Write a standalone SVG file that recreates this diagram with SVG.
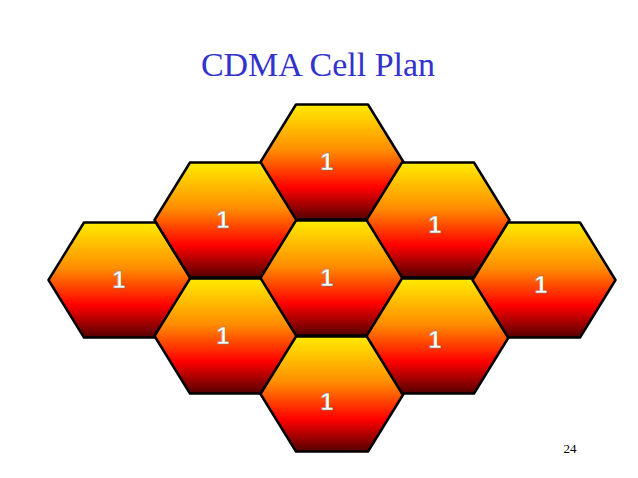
<svg xmlns="http://www.w3.org/2000/svg" width="638" height="478" viewBox="0 0 638 478">
<defs>
<linearGradient id="g" x1="0" y1="0" x2="0" y2="1">
<stop offset="0" stop-color="#ffec00"/>
<stop offset="0.4" stop-color="#ff8c00"/>
<stop offset="0.72" stop-color="#ff0000"/>
<stop offset="1" stop-color="#550000"/>
</linearGradient>
<polygon id="hx" points="-71.5,0 -36,-57.5 36,-57.5 71.5,0 36,57.5 -36,57.5"/>
</defs>
<style>
.h{fill:url(#g);stroke:#000;stroke-width:2.5;stroke-linejoin:round}
.l{font-family:"Liberation Sans",Arial,sans-serif;font-weight:bold;font-size:23px;fill:#fff;text-anchor:middle;stroke:#777;stroke-width:0.4}
</style>
<rect width="638" height="478" fill="#fff"/>
<text x="318" y="76" font-family="Liberation Serif,serif" font-size="34" fill="#3333cc" text-anchor="middle">CDMA Cell Plan</text>
<g id="c0"><use href="#hx" class="h" x="120" y="280"/><text class="l" x="119" y="288">1</text></g>
<g id="c1"><use href="#hx" class="h" x="226" y="220"/><text class="l" x="223" y="228">1</text></g>
<g id="c2"><use href="#hx" class="h" x="226" y="336"/><text class="l" x="223" y="344">1</text></g>
<g id="c3"><use href="#hx" class="h" x="332" y="162"/><text class="l" x="327" y="170">1</text></g>
<g id="c4"><use href="#hx" class="h" x="332" y="278"/><text class="l" x="327" y="286">1</text></g>
<g id="c5"><use href="#hx" class="h" x="332" y="394"/><text class="l" x="327" y="410">1</text></g>
<g id="c6"><use href="#hx" class="h" x="438" y="220"/><text class="l" x="435" y="233">1</text></g>
<g id="c7"><use href="#hx" class="h" x="438" y="336"/><text class="l" x="435" y="348">1</text></g>
<g id="c8"><use href="#hx" class="h" x="544" y="280"/><text class="l" x="541" y="293">1</text></g>
<g id="connectors"/>
<text x="570" y="453" font-family="Liberation Serif,serif" font-size="13" fill="#000" text-anchor="middle">24</text>
</svg>
